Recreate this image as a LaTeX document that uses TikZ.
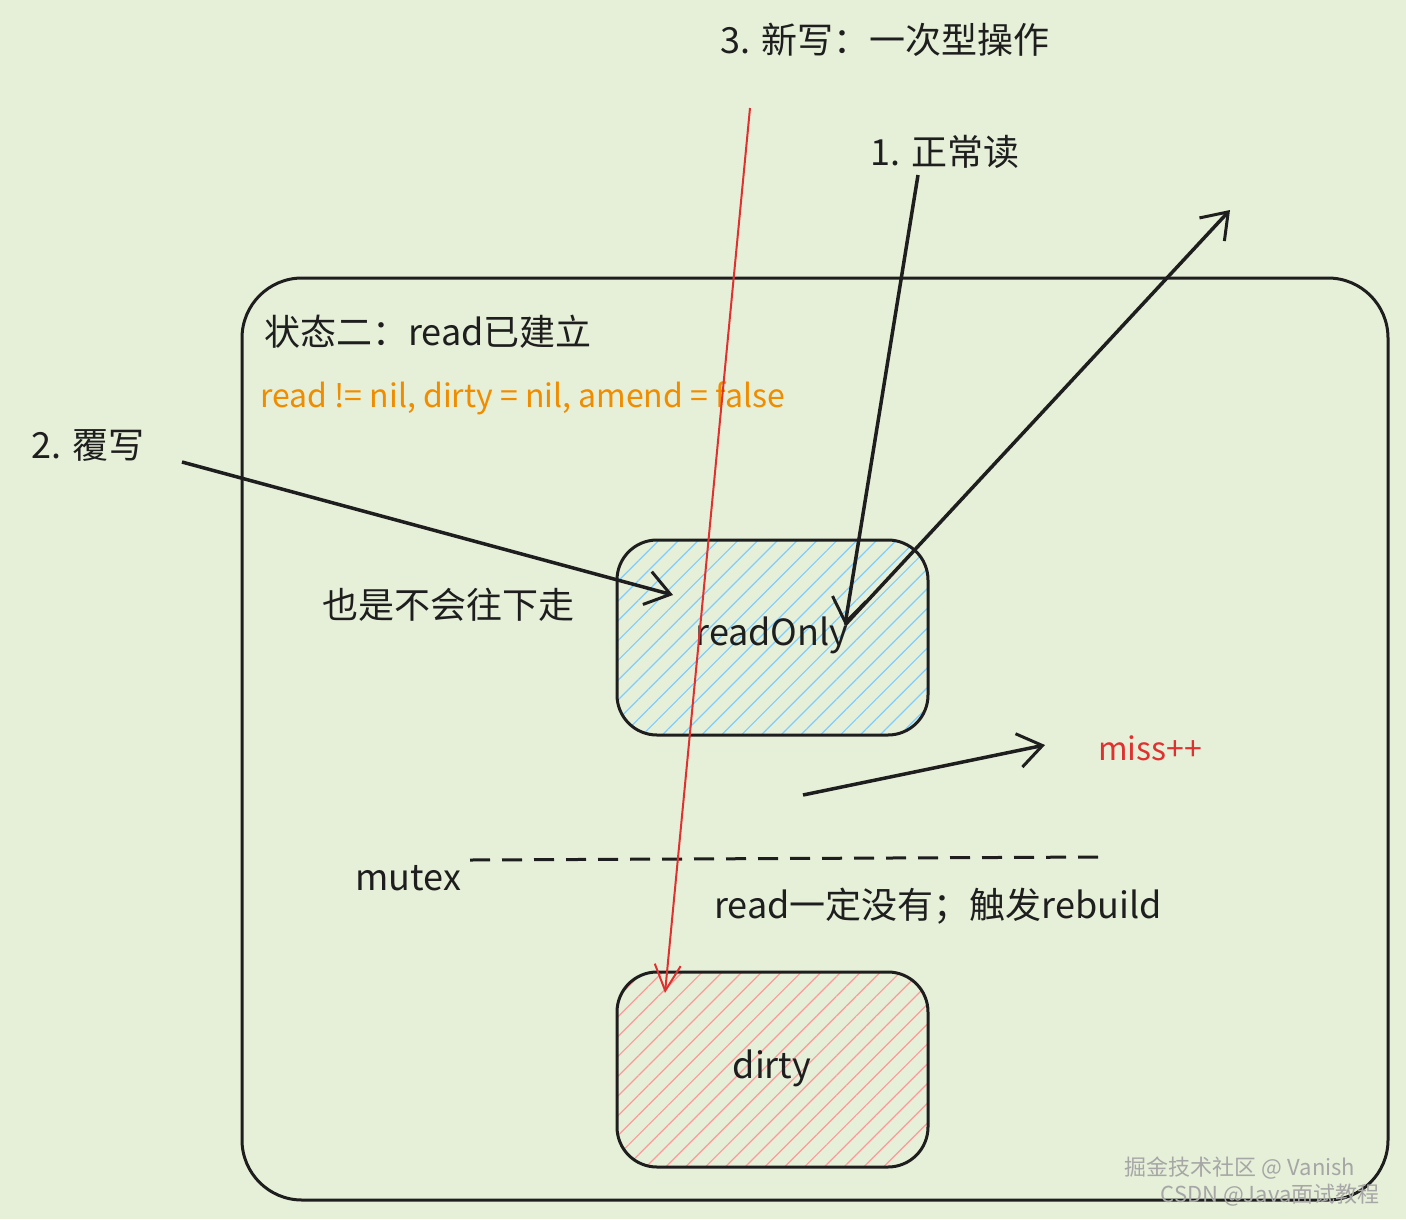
\documentclass[tikz,border=0pt]{standalone}
\usepackage{fontspec}
\setmainfont{Noto Sans CJK SC}
\usetikzlibrary{patterns.meta,arrows.meta}
\definecolor{bg}{HTML}{E6F0D8}
\definecolor{ink}{HTML}{1E1E1E}
\definecolor{org}{HTML}{F08C00}
\definecolor{rd}{HTML}{E03131}
\tikzset{
 box/.style={draw=ink,line width=3pt,rounded corners=40pt},
 arr/.style={draw=ink,line width=3.5pt,-{Straight Barb[length=24pt,width=34pt,line width=3pt]}},
 lbl/.style={font=\fontsize{36}{40}\selectfont,text=ink,inner sep=0pt},
}
\begin{document}
\begin{tikzpicture}[x=1pt,y=-1pt]
\fill[bg] (0,0) rectangle (1406,1219);
\useasboundingbox (0,0) rectangle (1406,1219);
\draw[box,rounded corners=60pt] (242,278) rectangle (1388,1200);
\draw[box,pattern={Lines[angle=45,distance=14pt,line width=1.2pt]},pattern color=cyan!60!blue!50] (617,540) rectangle (928,735);
\draw[box,pattern={Lines[angle=45,distance=14pt,line width=1.2pt]},pattern color=red!40] (617,972) rectangle (928,1167);
\node[lbl] (t3) at (885,40) {3. 新写：一次型操作};
\node[lbl] (t1) at (945,152) {1. 正常读};
\node[lbl,anchor=west] (st) at (264,332) {状态二：read已建立};
\node[lbl,anchor=west,text=org,font=\fontsize{32}{36}\selectfont] (cond) at (260,398) {read != nil, dirty = nil, amend = false};
\node[lbl] (t2) at (88,445) {2. 覆写};
\node[lbl] (dn) at (448,605) {也是不会往下走};
\node[lbl] (ro) at (772,635) {readOnly};
\node[lbl,text=rd,font=\fontsize{32}{36}\selectfont] (miss) at (1150,748) {miss++};
\node[lbl] (mutex) at (408,878) {mutex};
\node[lbl] (rb) at (938,906) {read一定没有；触发rebuild};
\node[lbl] (dt) at (772,1068) {dirty};
\node[text=gray!70,font=\fontsize{22}{24}\selectfont,inner sep=0pt] (wm1) at (1240,1168) {掘金技术社区 @ Vanish};
\node[text=gray!70,font=\fontsize{22}{24}\selectfont,inner sep=0pt] (wm2) at (1270,1195) {CSDN @Java面试教程};
\coordinate (d1) at (470,860); \coordinate (d2) at (1100,857);
\draw[ink,line width=3pt,dash pattern=on 20pt off 12pt] (d1) -- (d2);
\coordinate (r0) at (750,108); \coordinate (r1) at (665,993);
\draw[rd,line width=2pt,-{Straight Barb[length=26pt,width=26pt,line width=2pt]}] (r0) -- (r1);
\coordinate (a0) at (918,175); \coordinate (a1) at (845,625);
\draw[arr] (a0) -- (a1);
\coordinate (b1) at (1230,210);
\draw[arr] (a1) -- (b1);
\coordinate (c0) at (182,462); \coordinate (c1) at (673,595);
\draw[arr] (c0) -- (c1);
\coordinate (e0) at (803,795); \coordinate (e1) at (1045,745);
\draw[arr] (e0) -- (e1);
\end{tikzpicture}
\end{document}
